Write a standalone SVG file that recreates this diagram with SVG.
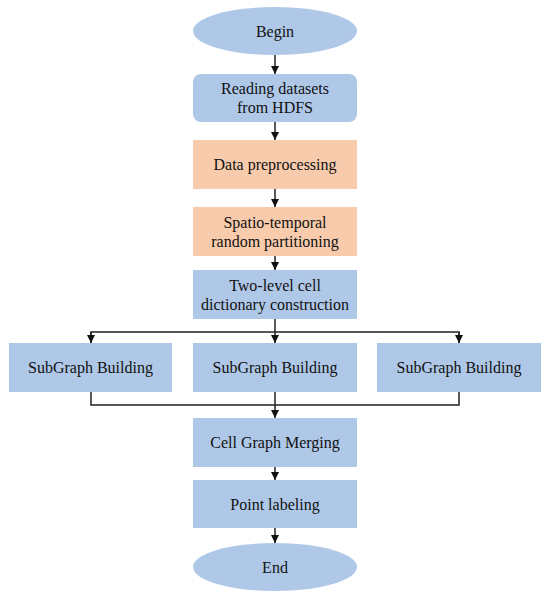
<svg xmlns="http://www.w3.org/2000/svg" width="550" height="603" viewBox="0 0 550 603">
<defs>
<marker id="ah" markerUnits="userSpaceOnUse" markerWidth="8" markerHeight="9" refX="8" refY="4" orient="auto">
<path d="M0,0 L8,4 L0,8 z" fill="#111"/>
</marker>
<style>
.b{fill:#AFC8E8;}
.o{fill:#F8CBAD;}
text{font-family:"Liberation Serif","Times New Roman",serif;font-size:16px;fill:#111;text-anchor:middle;}
.c{fill:none;stroke:#222;stroke-width:1.5;}
</style>
</defs>
<rect width="550" height="603" fill="#fff"/>
<g id="connectors">
<line class="c" x1="275" y1="55" x2="275" y2="74" marker-end="url(#ah)"/>
<line class="c" x1="275" y1="122" x2="275" y2="140" marker-end="url(#ah)"/>
<line class="c" x1="275" y1="189" x2="275" y2="207" marker-end="url(#ah)"/>
<line class="c" x1="275" y1="256" x2="275" y2="270" marker-end="url(#ah)"/>
<polyline class="c" points="275,319 275,332"/>
<polyline class="c" points="91,343 91,332 459,332 459,343"/>
<line class="c" x1="91" y1="332" x2="91" y2="343" marker-end="url(#ah)"/>
<line class="c" x1="275" y1="332" x2="275" y2="343" marker-end="url(#ah)"/>
<line class="c" x1="459" y1="332" x2="459" y2="343" marker-end="url(#ah)"/>
<polyline class="c" points="91,392 91,405 459,405 459,392"/>
<line class="c" x1="275" y1="392" x2="275" y2="418" marker-end="url(#ah)"/>
<line class="c" x1="275" y1="467" x2="275" y2="480" marker-end="url(#ah)"/>
<line class="c" x1="275" y1="528" x2="275" y2="543" marker-end="url(#ah)"/>
</g>
<g id="begin"><ellipse class="b" cx="275" cy="31" rx="82" ry="24"/><text x="275" y="36.5">Begin</text></g>
<g id="reading"><rect class="b" x="193" y="74" width="164" height="48" rx="8"/><text x="275" y="94">Reading datasets</text><text x="275" y="112.5">from HDFS</text></g>
<g id="preprocessing"><rect class="o" x="193" y="140" width="164" height="49"/><text x="275" y="170">Data preprocessing</text></g>
<g id="partitioning"><rect class="o" x="193" y="207" width="164" height="49"/><text x="275" y="228">Spatio-temporal</text><text x="275" y="246.5">random partitioning</text></g>
<g id="dictionary"><rect class="b" x="193" y="270" width="164" height="49"/><text x="275" y="291">Two-level cell</text><text x="275" y="309.5">dictionary construction</text></g>
<g id="sub1"><rect class="b" x="9" y="343" width="163" height="49"/><text x="90.5" y="373">SubGraph Building</text></g>
<g id="sub2"><rect class="b" x="193" y="343" width="164" height="49"/><text x="275" y="373">SubGraph Building</text></g>
<g id="sub3"><rect class="b" x="377" y="343" width="164" height="49"/><text x="459" y="373">SubGraph Building</text></g>
<g id="merging"><rect class="b" x="193" y="418" width="164" height="49"/><text x="275" y="448">Cell Graph Merging</text></g>
<g id="labeling"><rect class="b" x="193" y="480" width="164" height="48"/><text x="275" y="510">Point labeling</text></g>
<g id="end"><ellipse class="b" cx="275" cy="567" rx="82" ry="24"/><text x="275" y="572.5">End</text></g>
</svg>
